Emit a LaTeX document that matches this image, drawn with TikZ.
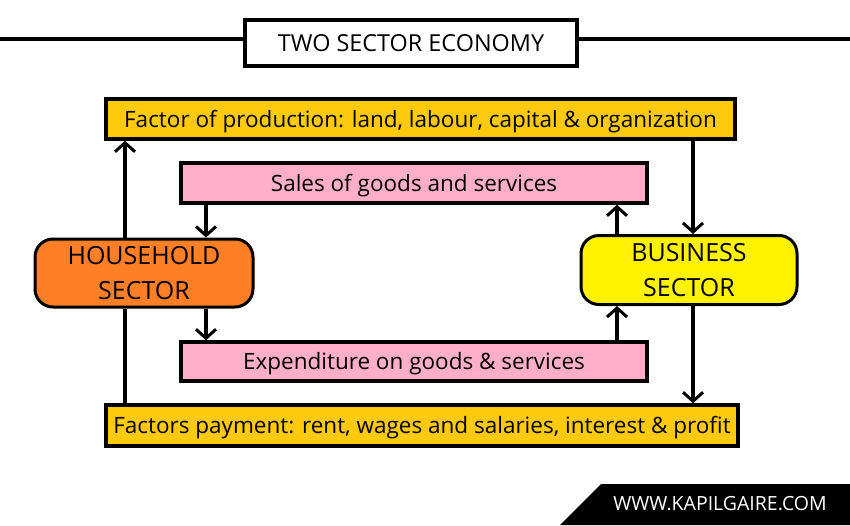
\documentclass[tikz,border=0pt]{standalone}
\usepackage{fontspec}
\setmainfont{Open Sans}
\usetikzlibrary{arrows.meta,positioning}

\definecolor{gold}{HTML}{FFC90E}
\definecolor{rosy}{HTML}{FFAEC9}
\definecolor{orangebox}{HTML}{FF7F27}
\definecolor{yellowbox}{HTML}{FFF200}

\tikzstyle{flowbox} = [rectangle, draw=black, line width=3.5pt, inner sep=0pt, text centered, text height=20pt, text depth=4pt, font=\fontsize{22.5}{26}\selectfont]
\tikzstyle{sector} = [rectangle, rounded corners=18pt, draw=black, line width=3pt, inner sep=0pt, align=center, font=\fontsize{25}{35}\selectfont]
\tikzstyle{arrow} = [line width=3.2pt, -{Straight Barb[length=9pt,width=20pt,line width=3pt]}]
\tikzstyle{plain} = [line width=3.2pt]

\begin{document}
\begin{tikzpicture}[x=1pt,y=-1pt]
  \useasboundingbox (0,0) rectangle (850,525);

  % title with rule
  \coordinate (ruleL) at (0,39);
  \coordinate (ruleR) at (850,39);
  \node (title) [flowbox, fill=white, minimum width=332pt, minimum height=46pt, font=\fontsize{23.4}{26}\selectfont] at (411,43) {TWO SECTOR ECONOMY};
  \draw [plain] (ruleL) -- (title.west |- ruleL);
  \draw [plain] (title.east |- ruleR) -- (ruleR);

  % flow boxes
  \node (production) [flowbox, fill=gold, minimum width=629pt, minimum height=40pt] at (420.5,119) {Factor of production: land, labour, capital \& organization};
  \node (sales) [flowbox, fill=rosy, minimum width=466pt, minimum height=40pt] at (414,183) {Sales of goods and services};
  \node (household) [sector, fill=orangebox, minimum width=218pt, minimum height=68pt] at (144,273) {HOUSEHOLD\\SECTOR};
  \node (business) [sector, fill=yellowbox, minimum width=216pt, minimum height=69pt] at (689,270) {BUSINESS\\SECTOR};
  \node (expenditure) [flowbox, fill=rosy, minimum width=466pt, minimum height=39pt] at (414,361.5) {Expenditure on goods \& services};
  \node (payment) [flowbox, fill=gold, minimum width=632pt, minimum height=41pt] at (422,425.5) {Factors payment: rent, wages and salaries, interest \& profit};

  % columns of the connectors
  \coordinate (colA) at (125,0);
  \coordinate (colB) at (206,0);
  \coordinate (colC) at (617,0);
  \coordinate (colD) at (693,0);

  \draw [arrow] (household.north -| colA) -- (production.south -| colA);
  \draw [plain] (payment.north -| colA) -- (household.south -| colA);
  \draw [arrow] (sales.south -| colB) -- (household.north -| colB);
  \draw [arrow] (household.south -| colB) -- (expenditure.north -| colB);
  \draw [arrow] (expenditure.north -| colC) -- (business.south -| colC);
  \draw [arrow] (business.north -| colC) -- (sales.south -| colC);
  \draw [arrow] (production.south -| colD) -- (business.north -| colD);
  \draw [arrow] (business.south -| colD) -- (payment.north -| colD);

  % web address tab
  \fill [black] (560,525) -- (601,484) -- (850,484) -- (850,525) -- cycle;
  \node (site) [text=white, font=\fontsize{19.5}{22}\selectfont] at (720,503.5) {WWW.KAPILGAIRE.COM};
\end{tikzpicture}
\end{document}
